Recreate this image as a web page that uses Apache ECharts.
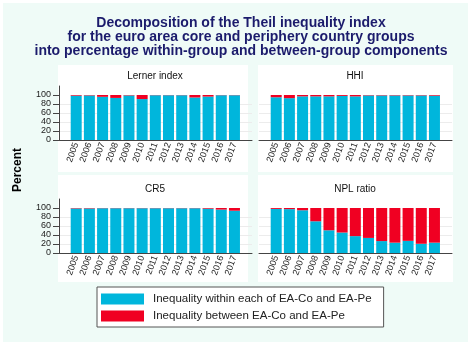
<!DOCTYPE html>
<html>
<head>
<meta charset="utf-8">
<script src="https://cdn.jsdelivr.net/npm/echarts@6/dist/echarts.min.js"></script>
<style>
html,body{margin:0;padding:0;background:#fff;}
#chart{width:474px;height:346px;}
</style>
</head>
<body>
<div id="chart"></div>
<script>
// ---- data ----
const years = ['2005','2006','2007','2008','2009','2010','2011','2012','2013','2014','2015','2016','2017'];
const panelTitles = ['Lerner index', 'HHI', 'CR5', 'NPL ratio'];
const seriesNames = ['Inequality within each of EA-Co and EA-Pe', 'Inequality between EA-Co and EA-Pe'];
const yTicks = [0, 20, 40, 60, 80, 100];

const lernerWithin  = [98.5, 99, 96, 93.5, 99, 91, 99.5, 99.5, 99.5, 94.5, 96.5, 99.5, 99.5];
const lernerBetween = [1.5, 1, 4, 6.5, 1, 9, 0.5, 0.5, 0.5, 5.5, 3.5, 0.5, 0.5];
const hhiWithin     = [95, 93, 97, 97, 97, 98, 97, 99, 99, 99, 99, 99, 98.5];
const hhiBetween    = [5, 7, 3, 3, 3, 2, 3, 1, 1, 1, 1, 1, 1.5];
const cr5Within     = [99, 99, 99.5, 99.5, 99.5, 99.5, 99.5, 99.5, 99.5, 99.5, 98.5, 96.5, 94];
const cr5Between    = [1, 1, 0.5, 0.5, 0.5, 0.5, 0.5, 0.5, 0.5, 0.5, 1.5, 3.5, 6];
const nplWithin     = [98, 97.5, 95, 70.5, 50.5, 45.5, 37.5, 33.5, 26.5, 23, 27, 20.5, 23];
const nplBetween    = [2, 2.5, 5, 29.5, 49.5, 54.5, 62.5, 66.5, 73.5, 77, 73, 79.5, 77];

const panelWithin  = [lernerWithin, hhiWithin, cr5Within, nplWithin];
const panelBetween = [lernerBetween, hhiBetween, cr5Between, nplBetween];

// ---- layout / style ----
const FONT = '"Liberation Sans", Arial, sans-serif';
const BLUE = '#00b6dc';
const RED = '#f00022';
const AXIS = '#444';
const gridPos = [
  {left: 59, top: 86, width: 193, height: 54},
  {left: 259, top: 86, width: 193, height: 54},
  {left: 59, top: 199, width: 193, height: 54},
  {left: 259, top: 199, width: 193, height: 54}
];
const titlePos = [[155, 76], [355, 76], [155, 189], [355, 189]];
const panelRects = [
  {x: 58, y: 65, width: 190, height: 107},
  {x: 258, y: 65, width: 195, height: 107},
  {x: 58, y: 175, width: 190, height: 107},
  {x: 258, y: 175, width: 195, height: 107}
];

// value first, category index second (y stacked)
const toPairs = arr => arr.map((v, i) => [v, i]);

const grids = [], xAxes = [], yAxes = [], series = [], graphics = [];

graphics.push({type: 'rect', z: -20, shape: {x: 3, y: 3, width: 465, height: 339}, style: {fill: '#effbf7'}});
panelRects.forEach(r => graphics.push({type: 'rect', z: -10, shape: r, style: {fill: '#ffffff'}}));

for (let p = 0; p < 4; p++) {
  const leftCol = (p % 2 === 0);
  grids.push(Object.assign({containLabel: false}, gridPos[p]));
  xAxes.push({
    type: 'value', gridIndex: p, min: -1.304, max: 13.33,
    axisLine: {show: true, onZero: false, lineStyle: {color: AXIS, width: 1}},
    axisTick: {show: false},
    splitLine: {show: false},
    axisLabel: {
      customValues: years.map((y, i) => i),
      formatter: v => years[Math.round(v)],
      rotate: 70, fontSize: 9, margin: 3, color: '#222', fontFamily: FONT
    }
  });
  yAxes.push({
    type: 'value', gridIndex: p, min: 0, max: 120, interval: 20,
    axisLine: {show: leftCol, onZero: false, lineStyle: {color: AXIS, width: 1}},
    axisTick: {show: leftCol, customValues: yTicks, length: 6, lineStyle: {color: AXIS}},
    axisLabel: {show: leftCol, customValues: yTicks, fontSize: 9, margin: 8, color: '#222', fontFamily: FONT},
    splitLine: {show: true, showMaxLine: false, showMinLine: false, lineStyle: {color: '#ececec', width: 1}}
  });
  series.push({
    type: 'bar', name: seriesNames[0], xAxisIndex: p, yAxisIndex: p, stack: 's' + p,
    encode: {x: 1, y: 0},
    barWidth: 11, itemStyle: {color: BLUE}, data: toPairs(panelWithin[p]), animation: false
  });
  series.push({
    type: 'bar', name: seriesNames[1], xAxisIndex: p, yAxisIndex: p, stack: 's' + p,
    encode: {x: 1, y: 0},
    barWidth: 11, itemStyle: {color: RED}, data: toPairs(panelBetween[p]), animation: false
  });
  graphics.push({
    type: 'text', x: titlePos[p][0], y: titlePos[p][1],
    style: {text: panelTitles[p], fontSize: 10, fontFamily: FONT, fill: '#111', align: 'center', verticalAlign: 'middle'}
  });
}

graphics.push({
  type: 'text', x: 241, y: 16,
  style: {
    text: 'Decomposition of the Theil inequality index\nfor the euro area core and periphery country groups\ninto percentage within-group and between-group components',
    fontSize: 14, fontWeight: 'bold', lineHeight: 14, fontFamily: FONT, fill: '#1b1b6c', align: 'center', verticalAlign: 'top'
  }
});
graphics.push({
  type: 'text', x: 18, y: 170, rotation: Math.PI / 2,
  style: {text: 'Percent', fontSize: 12, fontWeight: 'bold', fontFamily: FONT, fill: '#000', align: 'center', verticalAlign: 'middle'}
});

const chart = echarts.init(document.getElementById('chart'), null, {renderer: 'canvas'});
chart.setOption({
  backgroundColor: '#ffffff',
  animation: false,
  grid: grids,
  xAxis: xAxes,
  yAxis: yAxes,
  series: series,
  legend: {
    data: seriesNames, orient: 'vertical', left: 97, top: 287,
    padding: [6, 12, 5, 4], itemWidth: 43, itemHeight: 11, itemGap: 5,
    icon: 'rect', backgroundColor: '#ffffff', borderColor: '#555', borderWidth: 1, borderRadius: 0,
    selectedMode: false,
    textStyle: {fontSize: 11.5, fontFamily: FONT, color: '#222', lineHeight: 11, padding: [0, 0, 0, 4]}
  },
  graphic: graphics
});
</script>
</body>
</html>
